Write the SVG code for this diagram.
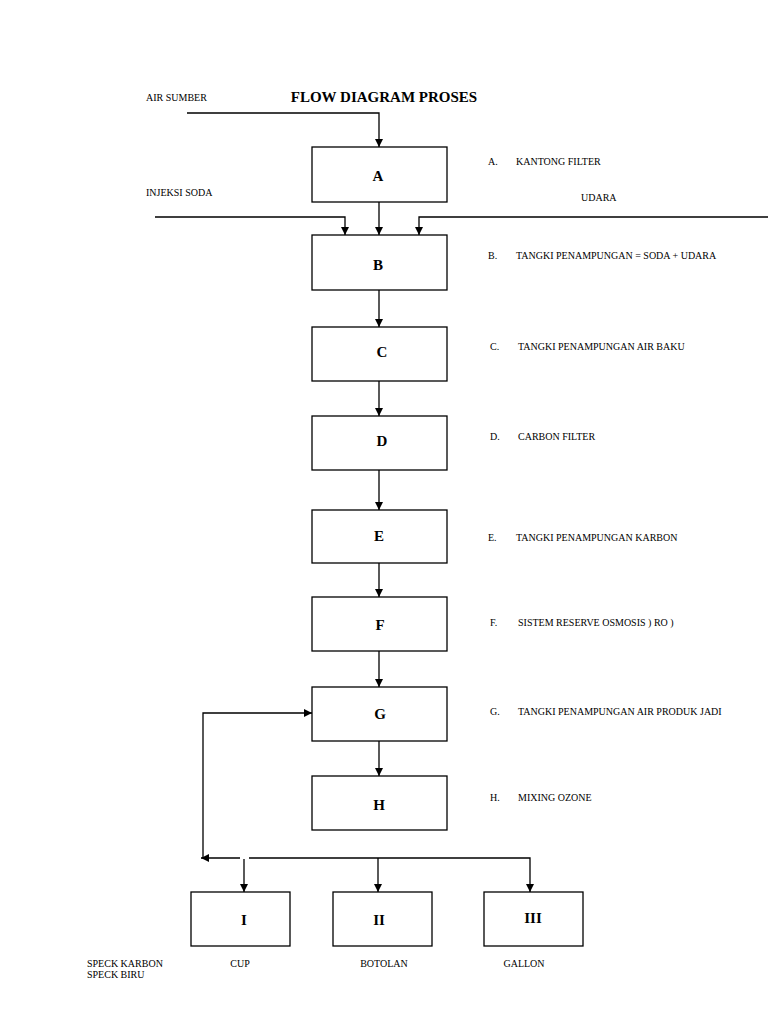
<svg xmlns="http://www.w3.org/2000/svg" width="768" height="1024" viewBox="0 0 768 1024">
<style>
.b{fill:#fff;stroke:#000;stroke-width:1.3}
.l{font-family:"Liberation Serif",serif;font-weight:bold;font-size:15px;text-anchor:middle}
.t{font-family:"Liberation Serif",serif;font-size:10px}
.c{fill:none;stroke:#000;stroke-width:1.3}
</style>
<defs><marker id="a" viewBox="0 0 10 10" refX="10" refY="5" markerWidth="8" markerHeight="8" markerUnits="userSpaceOnUse" orient="auto"><path d="M0,0L10,5L0,10z"/></marker></defs>
<rect width="768" height="1024" fill="#fff"/>
<text x="384" y="102" style="font-family:'Liberation Serif',serif;font-weight:bold;font-size:15px;text-anchor:middle">FLOW DIAGRAM PROSES</text>
<g class="t">
<text x="146" y="101">AIR SUMBER</text>
<text x="146" y="196">INJEKSI SODA</text>
<text x="581" y="201">UDARA</text>
<text x="488" y="165">A.</text><text x="516" y="165">KANTONG FILTER</text>
<text x="488" y="259">B.</text><text x="516" y="259">TANGKI PENAMPUNGAN = SODA + UDARA</text>
<text x="490" y="350">C.</text><text x="518" y="350">TANGKI PENAMPUNGAN AIR BAKU</text>
<text x="490" y="440">D.</text><text x="518" y="440">CARBON FILTER</text>
<text x="488" y="541">E.</text><text x="516" y="541">TANGKI PENAMPUNGAN KARBON</text>
<text x="490" y="626">F.</text><text x="518" y="626">SISTEM RESERVE OSMOSIS ) RO )</text>
<text x="490" y="715">G.</text><text x="518" y="715">TANGKI PENAMPUNGAN AIR PRODUK JADI</text>
<text x="490" y="801">H.</text><text x="518" y="801">MIXING OZONE</text>
<text x="87" y="967">SPECK KARBON</text><text x="87" y="978">SPECK BIRU</text>
<text x="240" y="967" text-anchor="middle">CUP</text>
<text x="384" y="967" text-anchor="middle">BOTOLAN</text>
<text x="524" y="967" text-anchor="middle">GALLON</text>
</g>
<g id="nA"><rect class="b" x="312" y="147" width="135" height="55"/><text class="l" x="378" y="181">A</text></g>
<g id="nB"><rect class="b" x="312" y="235" width="135" height="55"/><text class="l" x="378" y="270">B</text></g>
<g id="nC"><rect class="b" x="312" y="327" width="135" height="54"/><text class="l" x="382" y="357">C</text></g>
<g id="nD"><rect class="b" x="312" y="416" width="135" height="54"/><text class="l" x="382" y="446">D</text></g>
<g id="nE"><rect class="b" x="312" y="510" width="135" height="53"/><text class="l" x="379" y="541">E</text></g>
<g id="nF"><rect class="b" x="312" y="597" width="135" height="54"/><text class="l" x="380" y="630">F</text></g>
<g id="nG"><rect class="b" x="312" y="687" width="135" height="54"/><text class="l" x="380" y="719">G</text></g>
<g id="nH"><rect class="b" x="312" y="776" width="135" height="54"/><text class="l" x="379" y="810">H</text></g>
<g id="nI"><rect class="b" x="191" y="892" width="99" height="54"/><text class="l" x="244" y="925">I</text></g>
<g id="nII"><rect class="b" x="333" y="892" width="99" height="54"/><text class="l" x="379" y="925">II</text></g>
<g id="nIII"><rect class="b" x="484" y="892" width="99" height="54"/><text class="l" x="533" y="923">III</text></g>
<g id="connectors" class="c">
<path d="M187,113H379V147" marker-end="url(#a)"/>
<path d="M379,202V235" marker-end="url(#a)"/>
<path d="M155,217H345V235" marker-end="url(#a)"/>
<path d="M768,217H419V235" marker-end="url(#a)"/>
<path d="M379,290V327" marker-end="url(#a)"/>
<path d="M379,381V416" marker-end="url(#a)"/>
<path d="M379,470V510" marker-end="url(#a)"/>
<path d="M379,563V597" marker-end="url(#a)"/>
<path d="M379,651V687" marker-end="url(#a)"/>
<path d="M379,741V776" marker-end="url(#a)"/>
<path d="M240,858H201" marker-end="url(#a)"/>
<path d="M203,858V713H312" marker-end="url(#a)"/>
<path d="M244,859V892" marker-end="url(#a)"/>
<path d="M249,858H530V892" marker-end="url(#a)"/>
<path d="M378,858V892" marker-end="url(#a)"/>
</g>
</svg>
